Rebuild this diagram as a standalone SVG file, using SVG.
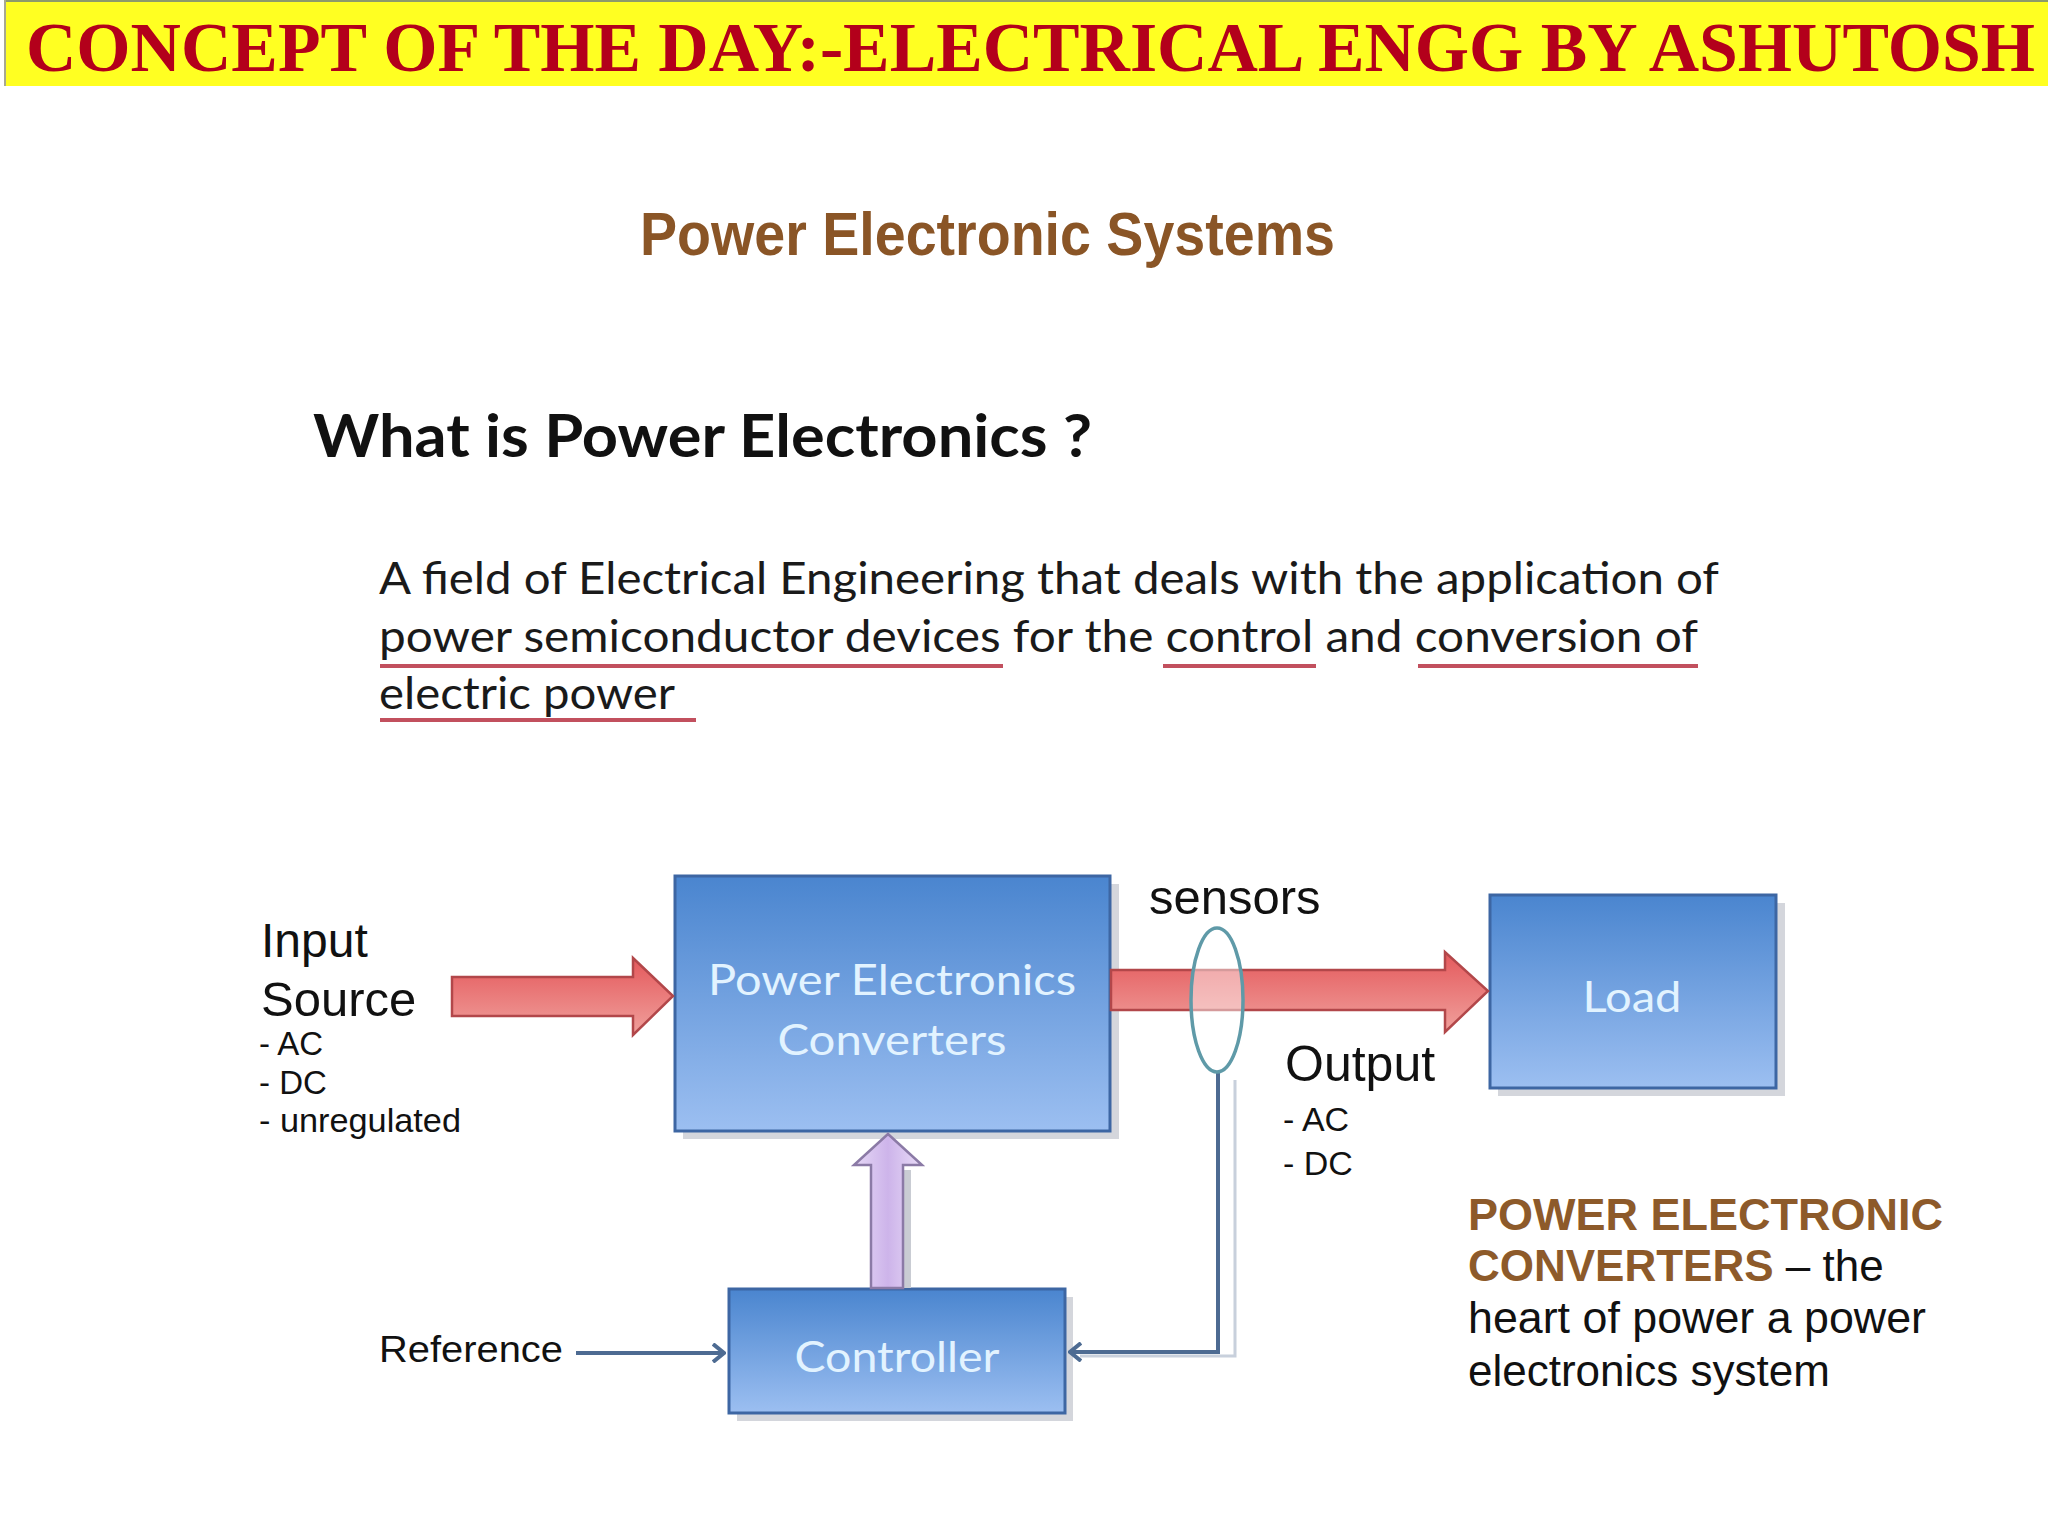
<svg xmlns="http://www.w3.org/2000/svg" width="2048" height="1536" viewBox="0 0 2048 1536">
<defs>
<style>
.hdr{font-family:"Liberation Serif",serif;font-weight:bold;font-size:70px;fill:#b3001b}
.title{font-family:"Liberation Sans",Arial,sans-serif;font-weight:bold;font-size:62px;fill:#8a5526}
.q{font-family:Lato,"Open Sans",sans-serif;font-weight:bold;font-size:60px;fill:#111}
.para{font-family:Lato,"Open Sans",sans-serif;font-size:45px;fill:#1a1a1a}
.ul{stroke:#c2505e;stroke-width:4;fill:none}
.lbl{font-family:"Liberation Sans",Arial,sans-serif;fill:#111}
.box{stroke:#3d66a3;stroke-width:3}
.btxt{font-family:Lato,"Open Sans",sans-serif;font-size:42px;fill:#e2f3ff;text-anchor:middle}
.shadow{fill:#c9ccd3;opacity:0.8}
.redarrow{fill:url(#gRed);stroke:#b2474a;stroke-width:2.5}
.conn{stroke:#4d6b92;stroke-width:4;fill:none}
.conn2{stroke:#c8d0dc;stroke-width:3;fill:none}
.brown{font-family:"Liberation Sans",Arial,sans-serif;font-weight:bold;fill:#8d5a2a}
</style>
<linearGradient id="gBox" x1="0" y1="0" x2="0" y2="1">
<stop offset="0" stop-color="#4a85cf"/>
<stop offset="1" stop-color="#9cbff1"/>
</linearGradient>
<linearGradient id="gRed" x1="0" y1="0" x2="0" y2="1">
<stop offset="0" stop-color="#e4595c"/>
<stop offset="1" stop-color="#f0a09c"/>
</linearGradient>
<linearGradient id="gPur" x1="0" y1="0" x2="1" y2="0">
<stop offset="0" stop-color="#e6d8f6"/>
<stop offset="0.5" stop-color="#cdb4ea"/>
<stop offset="1" stop-color="#e9dcf7"/>
</linearGradient>
<marker id="chev" markerWidth="14" markerHeight="20" refX="12" refY="10" orient="auto" markerUnits="userSpaceOnUse">
<path d="M1,1 L12,10 L1,19" fill="none" stroke="#4d6b92" stroke-width="4"/>
</marker>
</defs>
<rect width="2048" height="1536" fill="#ffffff"/>

<g id="header">
<rect x="4" y="0" width="2044" height="86" fill="#ffff22"/>
<line x1="4" y1="1" x2="2048" y2="1" stroke="#8d9a6a" stroke-width="2"/>
<line x1="5" y1="0" x2="5" y2="86" stroke="#a8a890" stroke-width="2"/>
<text class="hdr" x="26" y="71" textLength="2009" lengthAdjust="spacingAndGlyphs">CONCEPT OF THE DAY:-ELECTRICAL ENGG BY ASHUTOSH</text>
</g>

<g id="title">
<text class="title" x="640" y="255" textLength="695" lengthAdjust="spacingAndGlyphs">Power Electronic Systems</text>
</g>

<g id="question">
<text class="q" x="313" y="457" textLength="779" lengthAdjust="spacingAndGlyphs">What is Power Electronics ?</text>
</g>

<g id="definition">
<text class="para" x="379" y="594" textLength="1340" lengthAdjust="spacingAndGlyphs">A field of Electrical Engineering that deals with the application of</text>
<text class="para" x="379" y="652" textLength="1319" lengthAdjust="spacingAndGlyphs">power semiconductor devices for the control and conversion of</text>
<text class="para" x="379" y="709" textLength="296" lengthAdjust="spacingAndGlyphs">electric power</text>
<path class="ul" d="M380,666 H1003 M1163,666 H1316 M1418,666 H1698 M380,720 H696"/>
</g>

<g id="input-source">
<text class="lbl" x="261" y="957" font-size="48">Input</text>
<text class="lbl" x="261" y="1016" font-size="49">Source</text>
<text class="lbl" x="259" y="1055" font-size="33">- AC</text>
<text class="lbl" x="259" y="1094" font-size="33">- DC</text>
<text class="lbl" x="259" y="1132" font-size="33" textLength="202" lengthAdjust="spacingAndGlyphs">- unregulated</text>
</g>

<g id="converter">
<rect class="shadow" x="683" y="884" width="436" height="255"/>
<rect class="box" x="675" y="876" width="435" height="255" fill="url(#gBox)"/>
<text class="btxt" x="892" y="995" textLength="368" lengthAdjust="spacingAndGlyphs">Power Electronics</text>
<text class="btxt" x="892" y="1055" textLength="229" lengthAdjust="spacingAndGlyphs">Converters</text>
</g>

<g id="load">
<rect class="shadow" x="1498" y="903" width="287" height="193"/>
<rect class="box" x="1490" y="895" width="286" height="193" fill="url(#gBox)"/>
<text class="btxt" x="1632" y="1012" textLength="99" lengthAdjust="spacingAndGlyphs">Load</text>
</g>

<g id="controller">
<rect class="shadow" x="737" y="1297" width="336" height="124"/>
<rect class="box" x="729" y="1289" width="336" height="124" fill="url(#gBox)"/>
<text class="btxt" x="897" y="1372" textLength="205" lengthAdjust="spacingAndGlyphs">Controller</text>
</g>

<g id="connectors">
<path class="redarrow" d="M452,977 H633 V958 L673,996 L633,1035 V1016 H452 Z"/>
<path class="redarrow" d="M1111,970 H1445 V952 L1488,991 L1445,1032 V1010 H1111 Z"/>
<path d="M907,1170 V1288" stroke="#c9ccd3" stroke-width="8" fill="none"/>
<path d="M871,1288 V1165 H854 L888,1134 L922,1165 H903 V1288 Z" fill="url(#gPur)" stroke="#8b7aa6" stroke-width="2.5"/>
<path class="conn2" d="M1235,1080 V1356 H1080"/>
<path class="conn" d="M1218,1073 V1352 H1070" marker-end="url(#chev)"/>
<path class="conn" d="M576,1353 H724" marker-end="url(#chev)"/>
</g>

<g id="sensor">
<ellipse cx="1217" cy="1000" rx="26" ry="72" fill="#ffffff" fill-opacity="0.45" stroke="#5f9aa8" stroke-width="3.5"/>
<text class="lbl" x="1149" y="914" font-size="49">sensors</text>
</g>

<g id="output">
<text class="lbl" x="1285" y="1081" font-size="50">Output</text>
<text class="lbl" x="1283" y="1131" font-size="34">- AC</text>
<text class="lbl" x="1283" y="1175" font-size="34">- DC</text>
</g>

<g id="reference">
<text class="lbl" x="379" y="1362" font-size="36" textLength="184" lengthAdjust="spacingAndGlyphs">Reference</text>
</g>

<g id="note">
<text class="brown" x="1468" y="1230" font-size="44" textLength="475" lengthAdjust="spacingAndGlyphs">POWER ELECTRONIC</text>
<text x="1468" y="1281" font-size="44" class="lbl"><tspan class="brown" font-size="44">CONVERTERS</tspan> – the</text>
<text class="lbl" x="1468" y="1333" font-size="44" textLength="458" lengthAdjust="spacingAndGlyphs">heart of power a power</text>
<text class="lbl" x="1468" y="1386" font-size="44">electronics system</text>
</g>
</svg>
